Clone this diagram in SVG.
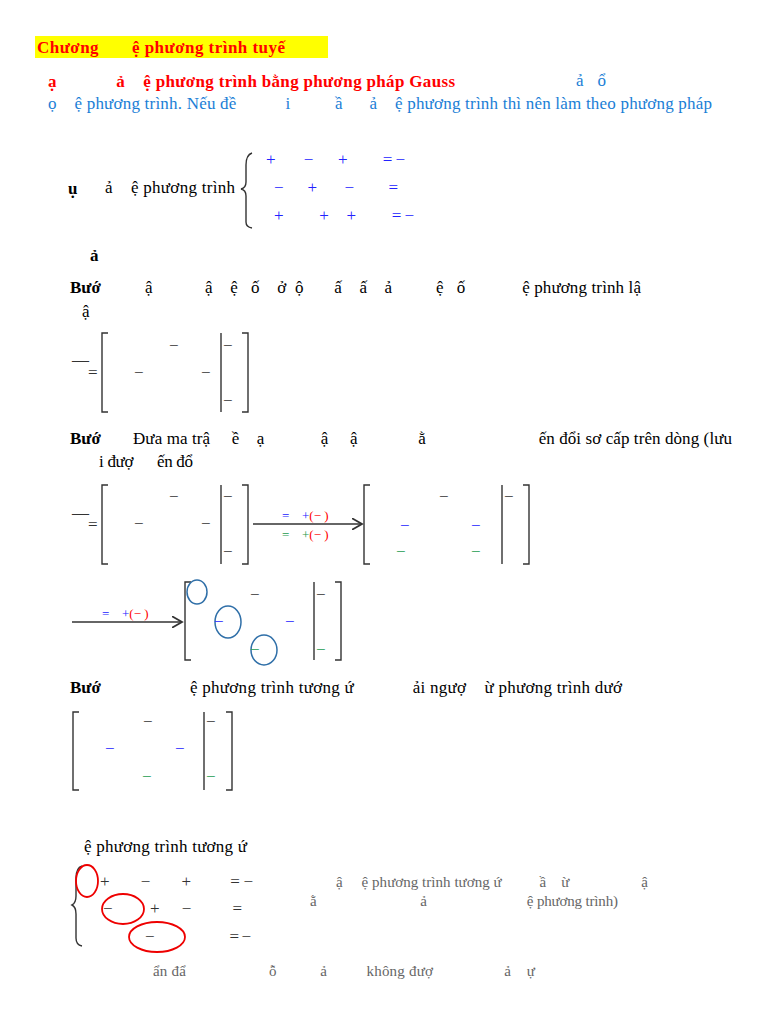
<svg xmlns="http://www.w3.org/2000/svg" width="768" height="1024" viewBox="0 0 768 1024" xml:space="preserve">
<style>
text{font-family:"Liberation Serif","DejaVu Serif",serif;font-size:17px;fill:#000;white-space:pre}
.b{font-weight:bold}.r{fill:#f00}.bl{fill:#1a7ed6}.u{fill:#22f}.g{fill:#1a9a50}.gr{fill:#666}.k{fill:#333}
.br{fill:none;stroke:#333;stroke-width:1.4}
.ar{stroke:#333;stroke-width:1.5;fill:none}
.cb{fill:none;stroke:#2f6fa8;stroke-width:1.5}
.cr{fill:none;stroke:#e00;stroke-width:1.8}
.sm{font-size:13px}
.gs{font-size:15px}
</style>
<defs><marker id="ah" markerWidth="8" markerHeight="8" refX="7" refY="4" orient="auto"><path d="M0,0 L7,4 L0,8" fill="none" stroke="#333" stroke-width="1.2"/></marker></defs>
<g id="title"><rect x="35" y="36" width="293" height="22" fill="#ff0"/><text x="37" y="53" class="b r" textLength="248" lengthAdjust="spacing">Chương       ệ phương trình tuyế</text></g>
<g id="intro">
<text x="48" y="87" class="b r" textLength="407" lengthAdjust="spacing">ạ             ả    ệ phương trình bằng phương pháp Gauss</text>
<text x="576" y="86" class="bl" textLength="30" lengthAdjust="spacing">ả    ổ</text>
<text x="48" y="109" class="bl" textLength="664" lengthAdjust="spacing">ọ    ệ phương trình. Nếu đề           i          ầ      ả    ệ phương trình thì nên làm theo phương pháp</text>
</g>
<g id="example">
<text x="68" y="194" class="b">ụ</text><text x="105" y="193" textLength="130" lengthAdjust="spacing">ả    ệ phương trình</text>
<path d="M252,153 Q246,155 246,165 L246,182 Q246,188 241,189 Q246,190 246,196 L246,222 Q246,227 252,228" class="br" stroke="#4a4aff"/>
<text x="266" y="165" class="u" textLength="139" lengthAdjust="spacing">+        −       +          = −</text>
<text x="274" y="193" class="u" textLength="124" lengthAdjust="spacing">−       +        −          =</text>
<text x="274" y="221" class="u" textLength="140" lengthAdjust="spacing">+          +     +          = −</text>
<text x="90" y="261" class="b">ả</text>
</g>
<g id="step1">
<text x="70" y="293" class="b">Bướ</text><text x="145" y="293" textLength="496" lengthAdjust="spacing">ậ            ậ    ệ   ố    ở  ộ       ấ    ấ    ả          ệ   ố             ệ phương trình lậ</text>
<text x="82" y="317">ậ</text>
</g>
<g id="m1">
<text x="72" y="365" class="k">—</text><text x="88" y="378" class="k">=</text>
<path d="M108,333 H102 V412 H108 M242,333 H248 V412 H242 M221,333 V412" class="br"/>
<text x="169" y="351" class="k">−</text><text x="134" y="378" class="k">−</text><text x="201" y="378" class="k">−</text>
<text x="223" y="351" class="k">−</text><text x="223" y="406" class="k">−</text>
</g>
<g id="step2">
<text x="70" y="444" class="b">Bướ</text><text x="133" y="444" textLength="599" lengthAdjust="spacing">Đưa ma trậ     ề    ạ             ậ     ậ              ằ                          ến đổi sơ cấp trên dòng (lưu</text>
<text x="99" y="467" textLength="94" lengthAdjust="spacing">i đượ      ến đổ</text>
</g>
<g id="m2">
<text x="72" y="518" class="k">—</text><text x="88" y="530" class="k">=</text>
<path d="M108,485 H102 V564 H108 M242,485 H248 V564 H242 M221,485 V564" class="br"/>
<text x="169" y="502" class="k">−</text><text x="134" y="529" class="k">−</text><text x="201" y="529" class="k">−</text>
<text x="223" y="502" class="k">−</text><text x="223" y="557" class="k">−</text>
</g>
<g id="m3">
<path d="M370,485 H364 V564 H370 M523,485 H529 V564 H523 M502,485 V564" class="br"/>
<text x="439" y="502" class="k">−</text><text x="504" y="502" class="k">−</text>
<text x="400" y="531" class="u">−</text><text x="471" y="531" class="u">−</text>
<text x="396" y="557" class="g">−</text><text x="471" y="557" class="g">−</text>
</g>
<g id="m4">
<path d="M191,582 H185 V660 H191 M335,582 H341 V660 H335 M314,582 V660" class="br"/>
<ellipse cx="197" cy="592" rx="10" ry="12" class="cb"/>
<ellipse cx="228" cy="622" rx="13" ry="16" class="cb"/>
<ellipse cx="264" cy="650" rx="13" ry="15" class="cb"/>
<text x="250" y="600" class="k">−</text><text x="316" y="600" class="k">−</text>
<text x="214" y="627" class="u">−</text><text x="285" y="627" class="u">−</text>
<text x="250" y="655" class="g">−</text><text x="316" y="655" class="g">−</text>
</g>
<g id="step3">
<text x="70" y="693" class="b">Bướ</text><text x="190" y="693" textLength="432" lengthAdjust="spacing">ệ phương trình tương ứ             ải ngượ    ừ phương trình dướ</text>
</g>
<g id="m5">
<path d="M79,712 H73 V790 H79 M226,712 H232 V790 H226 M204,712 V790" class="br"/>
<text x="143" y="727" class="k">−</text><text x="206" y="727" class="k">−</text>
<text x="105" y="754" class="u">−</text><text x="175" y="754" class="u">−</text>
<text x="142" y="782" class="g">−</text><text x="206" y="782" class="g">−</text>
</g>
<g id="system">
<text x="84" y="852" textLength="163" lengthAdjust="spacing">ệ phương trình tương ứ</text>
<path d="M82,866 Q76,868 76,878 L76,896 Q76,903 72,905 Q76,907 76,914 L76,938 Q76,945 82,946" class="br"/>
<text x="100" y="887" class="k" textLength="153" lengthAdjust="spacing">+        −        +          = −</text>
<text x="103" y="914" class="k" textLength="139" lengthAdjust="spacing">−          +      −           =</text>
<text x="145" y="942" class="k" textLength="106" lengthAdjust="spacing">−                       = −</text>
<ellipse cx="87" cy="881" rx="11" ry="16" class="cr"/>
<ellipse cx="123" cy="909" rx="21" ry="15" class="cr"/>
<ellipse cx="157" cy="937" rx="28" ry="15" class="cr"/>
<text x="336" y="887" class="gr gs" textLength="312" lengthAdjust="spacing">ậ     ệ phương trình tương ứ          ầ    ừ                   ậ</text>
<text x="310" y="906" class="gr gs" textLength="308" lengthAdjust="spacing">ằ                             ả                            ệ phương trình)</text>
<text x="153" y="976" class="gr gs" textLength="382" lengthAdjust="spacing">ẩn đẩ                     ỗ           ả          không đượ                  ả    ự</text>
</g>
<g id="connectors">
<line x1="253" y1="524" x2="362" y2="524" class="ar" marker-end="url(#ah)"/>
<text x="282" y="520" class="sm u">=</text><text x="302" y="520" class="sm"><tspan class="u">+</tspan><tspan class="r">(− )</tspan></text>
<text x="282" y="539" class="sm g">=</text><text x="302" y="539" class="sm"><tspan class="g">+</tspan><tspan class="r">(− )</tspan></text>
<line x1="72" y1="622" x2="182" y2="622" class="ar" marker-end="url(#ah)"/>
<text x="102" y="618" class="sm u">=</text><text x="122" y="618" class="sm"><tspan class="u">+</tspan><tspan class="r">(− )</tspan></text>
</g>
</svg>
